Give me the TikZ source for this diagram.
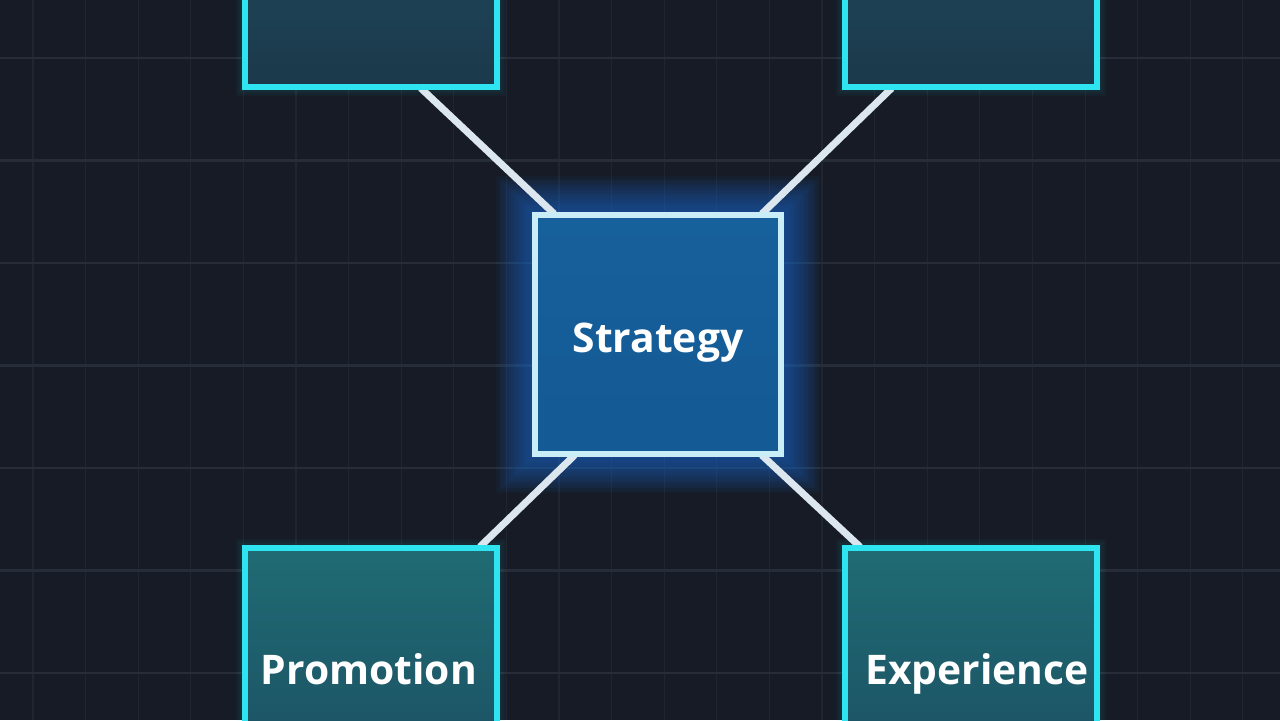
\documentclass[tikz,border=0pt]{standalone}
\usepackage{fontspec}
\setmainfont{Open Sans}
\usetikzlibrary{calc}
\definecolor{bg}{HTML}{161B25}
\definecolor{gridc}{HTML}{262D39}
\definecolor{cyanb}{HTML}{2EE4F0}
\definecolor{centerb}{HTML}{C9EEF8}
\definecolor{centerf}{HTML}{16609C}
\definecolor{centerf2}{HTML}{145A94}
\definecolor{glowb}{HTML}{1A74E4}
\definecolor{glowc}{HTML}{2BD8E8}
\definecolor{topf1}{HTML}{1F4A5C}
\definecolor{topf2}{HTML}{1B394B}
\definecolor{botf1}{HTML}{1F6B74}
\definecolor{botf2}{HTML}{1C4C60}
\definecolor{linkc}{HTML}{DCE6EE}
\tikzset{
  gridh/.style={draw=gridc, line width=0.6pt},
  gridv/.style={draw=gridc, line width=0.3pt, opacity=0.6},
  centerbox/.style={rectangle, draw=centerb, line width=1.2pt, top color=centerf, bottom color=centerf2, minimum width=2.44cm, minimum height=2.37cm, inner sep=0pt},
  topbox/.style={rectangle, draw=cyanb, line width=1.2pt, top color=topf1, bottom color=topf2, minimum width=2.50cm, minimum height=1.80cm, inner sep=0pt},
  botbox/.style={rectangle, draw=cyanb, line width=1.2pt, top color=botf1, bottom color=botf2, minimum width=2.50cm, minimum height=2.60cm, inner sep=0pt},
  lbl/.style={text=white, font=\bfseries\fontsize{11.6}{14}\selectfont, inner sep=0pt, anchor=base},
  link/.style={draw=linkc, line width=2pt},
}
\begin{document}
\begin{tikzpicture}[x=0.01cm,y=-0.01cm]
\useasboundingbox (0,0) rectangle (1280,720);
\clip (0,0) rectangle (1280,720);
\fill[bg] (0,0) rectangle (1280,720);
% grid
\foreach \yy in {58,160.5,263,365.5,468,570.5,673}
  \draw[gridh] (0,\yy) -- (1280,\yy);
\foreach \i in {0,...,24}
  \draw[gridv] ({33+52.6*\i},0) -- ({33+52.6*\i},720);
% glows
\foreach \k in {1,...,16}
  \fill[glowb, opacity=0.05] ({536-2.5*\k},{216-2.5*\k}) rectangle ({780+2.5*\k},{453+2.5*\k});
\foreach \k in {1,...,5}{
  \fill[glowc, opacity=0.035] ({246-2*\k},-100) rectangle ({496+2*\k},{86+2*\k});
  \fill[glowc, opacity=0.035] ({846-2*\k},-100) rectangle ({1096+2*\k},{86+2*\k});
  \fill[glowc, opacity=0.035] ({246-2*\k},{549-2*\k}) rectangle ({496+2*\k},800);
  \fill[glowc, opacity=0.035] ({846-2*\k},{549-2*\k}) rectangle ({1096+2*\k},800);
}
% nodes
\node[centerbox] (c) at (658,334.5) {};
\node[topbox] (tl) at (371,-4) {};
\node[topbox] (tr) at (971,-4) {};
\node[botbox] (bl) at (371,679) {};
\node[botbox] (br) at (971,679) {};
% connectors
\draw[link] ($(tl.south west)!0.696!(tl.south east)$) -- ($(c.north west)!0.082!(c.north east)$);
\draw[link] ($(tr.south west)!0.188!(tr.south east)$) -- ($(c.north west)!0.918!(c.north east)$);
\draw[link] ($(c.south west)!0.164!(c.south east)$) -- ($(bl.north west)!0.928!(bl.north east)$);
\draw[link] ($(c.south west)!0.918!(c.south east)$) -- ($(br.north west)!0.064!(br.north east)$);
% redraw box borders over link ends
\draw[draw=centerb, line width=1.2pt] (c.south west) rectangle (c.north east);
\draw[draw=cyanb, line width=1.2pt] (tl.south west) rectangle (tl.north east);
\draw[draw=cyanb, line width=1.2pt] (tr.south west) rectangle (tr.north east);
\draw[draw=cyanb, line width=1.2pt] (bl.south west) rectangle (bl.north east);
\draw[draw=cyanb, line width=1.2pt] (br.south west) rectangle (br.north east);
% labels
\node[lbl] (ct) at (658,352) {Strategy};
\node[lbl] (pt) at (369,684) {Promotion};
\node[lbl] (et) at (977,684) {Experience};
\end{tikzpicture}
\end{document}
